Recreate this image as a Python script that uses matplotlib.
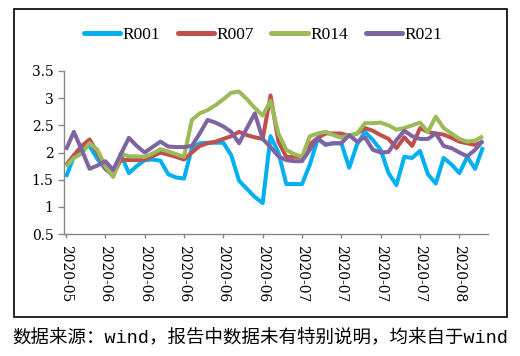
import matplotlib
matplotlib.use("Agg")
import matplotlib.pyplot as plt
from matplotlib.patches import Rectangle
from matplotlib.ticker import FixedLocator, FuncFormatter

# ---- data ----
tick_labels = ["2020-05", "2020-06", "2020-06", "2020-06", "2020-06", "2020-06",
               "2020-07", "2020-07", "2020-07", "2020-07", "2020-08"]
series_names = ["R001", "R007", "R014", "R021"]

r001 = [1.55, 1.92, 2.08, 2.12, 1.88, 1.70, 1.57, 1.95, 1.62, 1.75,
        1.86, 1.87, 1.85, 1.60, 1.54, 1.52, 2.08, 2.17, 2.18, 2.18,
        2.18, 1.95, 1.48, 1.33, 1.18, 1.07, 2.30, 2.00, 1.42, 1.42,
        1.42, 1.78, 2.25, 2.15, 2.17, 2.17, 1.72, 2.15, 2.38, 2.23,
        2.05, 1.62, 1.40, 1.92, 1.90, 2.03, 1.60, 1.43, 1.90, 1.78,
        1.62, 1.92, 1.70, 2.10]
r007 = [1.77, 1.95, 2.12, 2.24, 2.00, 1.70, 1.60, 1.87, 1.86, 1.86,
        1.87, 1.93, 2.00, 1.96, 1.92, 1.87, 2.00, 2.12, 2.17, 2.20,
        2.25, 2.30, 2.38, 2.32, 2.28, 2.25, 3.05, 2.20, 1.92, 1.92,
        1.92, 2.15, 2.27, 2.35, 2.35, 2.35, 2.30, 2.35, 2.45, 2.40,
        2.32, 2.25, 2.08, 2.28, 2.12, 2.45, 2.38, 2.35, 2.33, 2.27,
        2.20, 2.17, 2.14, 2.20]
r014 = [1.74, 1.90, 1.98, 2.17, 2.05, 1.75, 1.55, 1.98, 1.93, 1.93,
        1.92, 1.98, 2.06, 2.02, 1.97, 1.92, 2.60, 2.72, 2.78, 2.87,
        2.98, 3.10, 3.12, 2.98, 2.82, 2.68, 2.95, 2.35, 2.05, 1.97,
        1.92, 2.30, 2.35, 2.38, 2.32, 2.27, 2.32, 2.35, 2.54, 2.54,
        2.55, 2.50, 2.42, 2.45, 2.50, 2.55, 2.38, 2.66, 2.45, 2.35,
        2.25, 2.20, 2.22, 2.30]
r021 = [2.05, 2.38, 2.05, 1.70, 1.76, 1.84, 1.68, 1.98, 2.27, 2.12,
        2.00, 2.10, 2.20, 2.11, 2.10, 2.10, 2.12, 2.35, 2.60, 2.55,
        2.48, 2.38, 2.17, 2.45, 2.72, 2.25, 2.10, 1.93, 1.86, 1.84,
        1.84, 2.05, 2.26, 2.14, 2.17, 2.17, 2.32, 2.20, 2.28, 2.05,
        2.00, 2.01, 2.23, 2.40, 2.30, 2.25, 2.25, 2.35, 2.12, 2.08,
        2.00, 1.93, 2.05, 2.22]

colors = ["#00B0F0", "#C0504D", "#9BBB59", "#8064A2"]
caption = "数据来源：wind，报告中数据未有特别说明，均来自于wind"

# ---- figure ----
W, H = 520, 356
fig = plt.figure(figsize=(W / 100, H / 100), dpi=100)

def fx(px):
    return px / W

def fy(py):
    return 1 - py / H

ax = fig.add_axes([fx(64), fy(234), fx(487.7) - fx(64), fy(71) - fy(234)])

x = list(range(len(r001)))
for name, vals, c in zip(series_names, [r001, r007, r014, r021], colors):
    ax.plot(x, vals, color=c, lw=2.9, label=name,
            solid_joinstyle="round", solid_capstyle="butt")

ax.set_ylim(0.5, 3.5)
ax.set_xlim(-0.25, 53.6)
ax.yaxis.set_major_locator(FixedLocator([0.5, 1, 1.5, 2, 2.5, 3, 3.5]))
ax.yaxis.set_major_formatter(FuncFormatter(lambda v, p: "%g" % v))
ax.set_xticks([5 * i for i in range(len(tick_labels))])
ax.set_xticklabels(tick_labels, rotation=-90)

for s in ["top", "right"]:
    ax.spines[s].set_visible(False)
for s in ["left", "bottom"]:
    ax.spines[s].set_color("#888888")
    ax.spines[s].set_linewidth(1.0)

ax.tick_params(axis="y", direction="out", length=4, width=1, color="#888888",
               pad=3.5, labelsize=10, labelcolor="black")
ax.tick_params(axis="x", direction="out", length=3, width=1, color="#888888",
               pad=5, labelsize=10, labelcolor="black")
for lab in ax.get_yticklabels() + ax.get_xticklabels():
    lab.set_fontfamily("DejaVu Serif")

# legend
leg = fig.legend(loc="center", bbox_to_anchor=(fx(263), fy(35)), ncol=4,
                 frameon=False, prop={"family": "Liberation Serif", "size": 12.5},
                 handlelength=2.1, handletextpad=0.15, columnspacing=1.0,
                 borderaxespad=0)
for h in leg.get_lines():
    h.set_linewidth(3.6)
    h.set_solid_capstyle("round")

# outer frame
fig.add_artist(Rectangle((fx(14), fy(317)), fx(507) - fx(14), fy(9) - fy(317),
                         transform=fig.transFigure, fill=False,
                         edgecolor="black", linewidth=1.2))

# caption
fig.text(fx(12), fy(337), caption, ha="left", va="center", fontsize=13.3,
         family=["Liberation Mono", "Noto Sans CJK SC"], color="black")

fig.savefig("out.png", dpi=100)
